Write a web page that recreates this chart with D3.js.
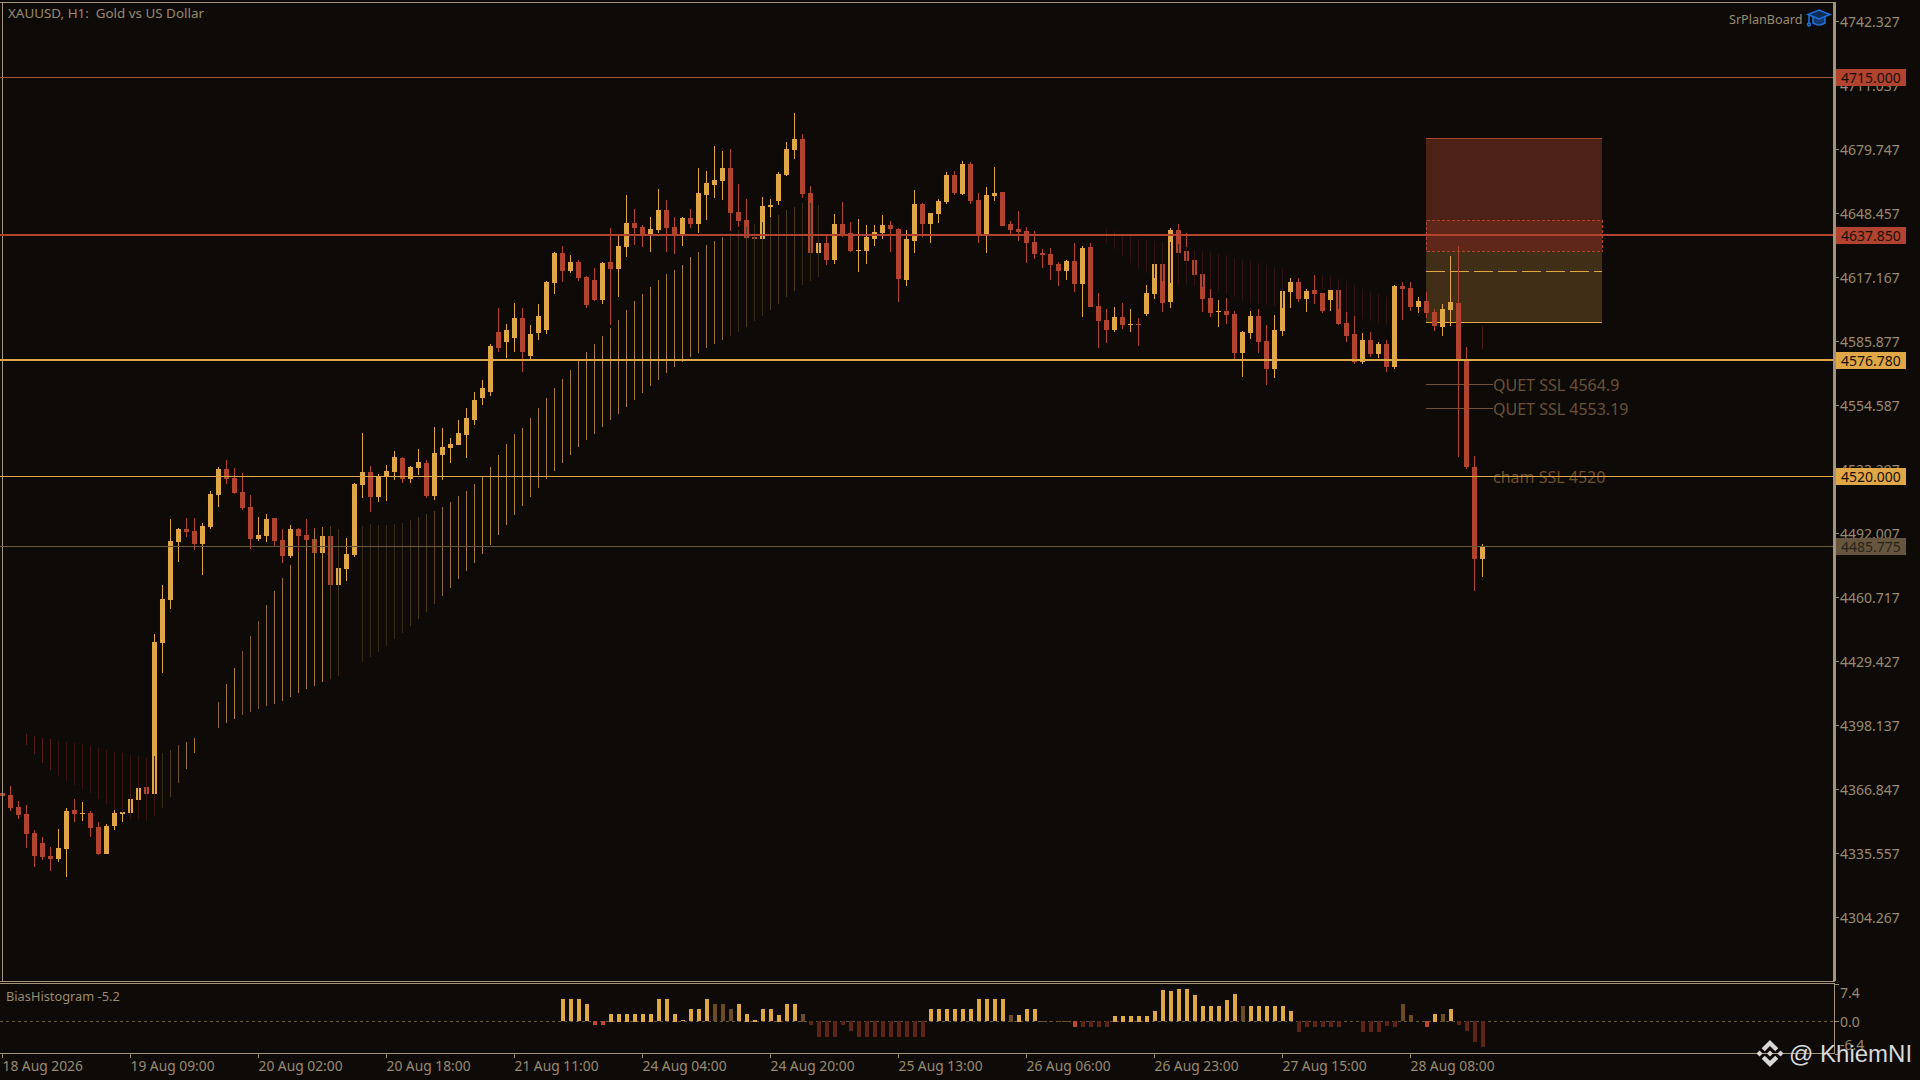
<!DOCTYPE html>
<html><head><meta charset="utf-8">
<script src="https://cdn.jsdelivr.net/npm/d3@7"></script>
<style>
html,body{margin:0;padding:0;background:#0d0a08;overflow:hidden}
svg{display:block}
text{font-family:"Noto Sans",Tahoma,sans-serif;white-space:pre}
</style></head><body><svg id="c" width="1920" height="1080"></svg>
<script>
const highs=[4366.6,4368.5,4361.2,4359.2,4347.0,4343.6,4338.7,4347.5,4357.8,4362.2,
4360.7,4356.3,4350.9,4349.9,4357.8,4355.8,4362.2,4367.5,4368.0,4442.8,
4466.8,4499.0,4494.6,4499.5,4499.5,4497.1,4512.7,4524.5,4527.9,4524.0,
4521.5,4510.8,4500.0,4501.5,4499.5,4494.1,4496.1,4494.6,4499.0,4494.6,
4495.1,4490.7,4475.1,4489.8,4516.6,4541.1,4525.0,4521.0,4525.4,4532.3,
4529.3,4525.0,4533.2,4527.9,4544.0,4543.5,4538.6,4547.4,4553.3,4561.1,
4567.0,4584.6,4602.2,4594.4,4604.6,4602.2,4593.9,4604.1,4615.4,4629.5,
4632.5,4628.0,4625.6,4617.8,4621.7,4624.6,4641.3,4637.4,4657.4,4650.6,
4642.7,4646.6,4660.3,4655.0,4646.6,4646.6,4650.6,4670.6,4669.1,4681.3,
4678.9,4679.9,4662.8,4655.4,4637.4,4656.4,4655.4,4668.6,4683.3,4697.5,
4687.2,4661.8,4634.0,4637.4,4648.1,4654.0,4644.2,4645.7,4642.7,4642.7,
4647.6,4644.7,4641.3,4640.3,4659.8,4653.5,4648.6,4655.4,4668.6,4669.1,
4674.0,4673.5,4658.4,4661.3,4671.1,4658.9,4644.7,4649.6,4641.8,4639.8,
4631.0,4631.5,4624.6,4625.6,4634.0,4632.5,4634.0,4609.5,4601.7,4602.6,
4604.6,4601.7,4597.3,4613.4,4623.7,4623.7,4641.3,4643.2,4638.8,4625.6,
4618.8,4611.5,4606.1,4607.1,4600.7,4590.9,4600.7,4601.7,4593.9,4598.8,
4610.5,4616.8,4616.8,4611.5,4618.3,4609.5,4611.0,4616.3,4600.2,4598.3,
4590.0,4590.4,4585.6,4586.5,4613.4,4614.9,4614.9,4607.6,4610.0,4601.7,
4604.1,4627.6,4632.5,4583.1,4529.8,4486.8];
const lows=[4362.2,4356.3,4352.4,4338.2,4328.9,4332.4,4327.0,4331.4,4324.0,4350.9,
4351.4,4343.6,4334.8,4335.3,4347.0,4350.9,4352.9,4361.7,4364.6,4364.6,
4423.8,4455.0,4478.0,4490.2,4483.9,4471.6,4494.1,4504.9,4516.2,4511.3,
4503.4,4484.4,4488.3,4487.8,4485.8,4477.5,4480.0,4482.9,4483.9,4481.4,
4481.4,4466.8,4466.8,4468.7,4480.5,4509.3,4502.5,4507.3,4507.8,4518.1,
4516.6,4516.6,4520.5,4509.3,4508.3,4518.1,4526.4,4535.2,4528.8,4545.0,
4554.8,4559.2,4580.7,4577.7,4580.7,4570.9,4576.7,4586.5,4589.5,4609.0,
4614.9,4619.3,4615.4,4602.2,4605.6,4604.1,4593.9,4607.6,4627.1,4633.0,
4632.0,4629.5,4638.8,4629.5,4628.6,4632.5,4641.3,4638.8,4645.2,4655.9,
4655.0,4639.8,4641.7,4636.4,4635.4,4635.9,4646.6,4652.5,4666.7,4675.0,
4655.9,4629.0,4629.0,4623.2,4623.7,4636.9,4629.5,4619.8,4623.7,4632.5,
4635.9,4629.5,4605.1,4613.0,4629.0,4636.9,4634.0,4643.7,4653.0,4657.4,
4657.4,4653.0,4634.0,4629.0,4654.5,4642.2,4637.8,4634.9,4624.2,4626.1,
4621.7,4615.9,4612.9,4615.9,4610.0,4597.8,4602.6,4582.6,4585.1,4590.4,
4591.9,4590.4,4583.6,4598.3,4606.6,4600.2,4602.2,4629.0,4624.6,4618.3,
4600.2,4597.8,4592.9,4594.4,4577.2,4568.4,4587.0,4580.2,4564.5,4568.0,
4588.5,4602.2,4605.1,4600.2,4604.1,4599.7,4600.7,4593.9,4585.6,4574.8,
4574.8,4578.2,4577.7,4570.9,4572.3,4596.3,4600.7,4599.7,4597.3,4590.9,
4588.5,4593.4,4529.3,4523.5,4463.8,4470.7];
const opens=[4365.1,4364.1,4358.3,4354.8,4345.5,4340.7,4334.3,4332.8,4337.7,4356.8,
4354.8,4355.3,4348.5,4335.3,4349.0,4354.8,4355.3,4361.7,4368.0,4364.6,
4438.4,4459.4,4487.8,4494.1,4493.1,4486.8,4495.1,4510.8,4523.5,4519.1,
4512.2,4504.9,4489.3,4490.7,4499.5,4488.8,4481.1,4494.1,4491.2,4489.3,
4482.4,4490.7,4466.8,4474.6,4481.4,4515.6,4522.0,4509.8,4520.0,4522.0,
4528.8,4518.6,4524.0,4526.4,4510.3,4530.3,4533.7,4535.2,4539.9,4547.4,
4558.2,4561.1,4590.4,4585.6,4587.5,4597.3,4578.7,4590.0,4591.4,4614.4,
4629.0,4620.3,4624.6,4617.3,4615.9,4606.1,4624.6,4621.2,4632.0,4643.7,
4641.7,4637.8,4640.3,4650.1,4641.7,4637.8,4646.2,4643.2,4657.4,4662.3,
4664.2,4670.6,4649.1,4645.2,4636.9,4635.9,4651.5,4654.5,4667.2,4679.4,
4684.8,4658.4,4629.0,4634.0,4625.6,4643.2,4638.8,4630.0,4630.0,4635.9,
4638.8,4642.7,4640.8,4615.9,4634.9,4653.0,4643.2,4648.1,4654.0,4667.2,
4657.9,4672.6,4655.0,4637.8,4656.9,4658.9,4643.2,4640.8,4639.8,4634.4,
4629.0,4628.6,4623.7,4620.3,4625.1,4613.9,4632.0,4603.1,4596.3,4591.4,
4597.8,4593.9,4594.4,4599.2,4609.0,4623.7,4605.1,4640.3,4630.0,4625.6,
4618.8,4607.1,4600.2,4600.7,4599.2,4580.2,4590.0,4598.3,4586.0,4572.3,
4590.9,4610.0,4614.9,4606.6,4611.0,4609.5,4606.1,4611.0,4594.8,4589.5,
4575.8,4586.5,4579.7,4584.6,4573.3,4612.9,4612.0,4602.6,4605.6,4600.2,
4592.9,4601.2,4604.6,4576.8,4524.5,4479.5];
const closes=[4363.6,4357.8,4354.3,4345.1,4334.3,4333.8,4332.8,4338.2,4356.3,4354.8,
4355.3,4348.0,4335.3,4349.0,4355.3,4355.8,4362.2,4367.5,4364.6,4438.9,
4459.9,4488.3,4494.1,4492.7,4486.8,4495.6,4511.3,4523.5,4518.6,4511.7,
4504.4,4489.3,4491.2,4499.0,4488.3,4481.1,4494.1,4490.7,4488.8,4482.4,
4490.7,4466.8,4475.1,4481.9,4516.1,4522.0,4509.8,4520.0,4522.5,4529.3,
4518.6,4524.5,4526.9,4510.3,4531.3,4534.2,4535.7,4541.1,4548.4,4557.2,
4563.1,4583.6,4582.6,4591.4,4597.3,4580.7,4589.5,4598.3,4614.9,4629.0,
4620.3,4624.6,4616.8,4603.6,4606.1,4624.2,4621.2,4632.5,4643.7,4641.3,
4637.8,4640.8,4650.1,4641.3,4637.8,4646.2,4643.2,4658.4,4663.3,4664.7,
4670.6,4648.6,4644.7,4636.4,4635.9,4652.0,4652.5,4667.7,4679.9,4684.8,
4657.9,4629.0,4634.0,4625.6,4643.2,4637.4,4630.0,4630.5,4636.9,4639.3,
4642.7,4640.8,4616.3,4635.9,4653.0,4643.2,4648.6,4654.5,4667.2,4658.4,
4672.6,4654.5,4637.8,4657.4,4658.4,4642.2,4640.3,4639.3,4634.0,4628.6,
4628.1,4623.2,4620.3,4625.1,4613.9,4631.5,4602.6,4595.8,4591.4,4597.8,
4593.9,4594.4,4593.9,4609.5,4623.7,4604.6,4640.3,4629.0,4625.1,4618.3,
4606.6,4599.7,4600.7,4598.8,4580.2,4590.4,4598.3,4585.6,4572.3,4591.4,
4610.5,4614.9,4606.6,4610.5,4609.0,4600.7,4611.0,4594.4,4588.5,4575.8,
4586.5,4579.7,4584.6,4573.3,4612.9,4611.5,4602.6,4605.6,4599.7,4593.4,
4601.7,4605.1,4576.8,4524.5,4479.5,4485.8];
const ribbonHigh=[null,null,null,4393.9,4393.0,4392.0,4391.5,4390.5,4390.0,4389.5,
4389.1,4388.1,4387.1,4386.1,4385.1,4384.6,4383.7,4383.2,4382.2,4383.2,
4384.6,4386.1,4388.6,4390.0,4392.0,null,null,4409.6,4418.4,4426.2,
4434.5,4441.8,4449.2,4457.0,4463.8,4470.2,4476.5,4482.9,4488.8,4493.6,
4495.1,4495.6,4494.1,null,null,4495.6,4496.6,4496.1,4496.1,4496.6,
4497.1,4498.5,4500.0,4501.5,4503.0,4504.9,4507.3,4510.3,4512.7,4516.1,
4520.0,4524.5,4530.3,4535.7,4540.6,4543.5,4548.4,4553.3,4558.2,4563.1,
4567.5,4571.9,4576.3,4580.7,4584.6,4588.5,4592.4,4596.3,4601.2,4605.6,
4609.0,4612.4,4615.9,4618.8,4620.8,4623.2,4627.1,4629.5,4633.0,4634.9,
4636.9,4638.8,4640.3,4641.8,4643.2,4644.2,4646.6,4647.6,4650.1,4651.5,
4653.5,4653.5,4652.5,null,null,null,null,null,null,null,
null,null,null,null,null,null,null,null,null,null,
null,null,null,null,null,null,null,null,null,null,
null,null,null,null,null,null,null,null,4640.8,4639.8,
4637.8,4637.4,4635.9,4635.4,4634.9,4634.4,4634.4,4633.5,4632.0,4630.5,
4630.0,4629.5,4628.6,4628.1,4626.6,4625.6,4625.1,4624.2,4623.2,4622.2,
4621.2,null,null,null,null,4618.3,4617.8,4616.3,4615.4,4613.4,
4611.5,4610.0,4609.0,4607.6,null,null,null,null,null,null,
null,null,null,null,null,4593.4];
const ribbonLow=[null,null,null,4388.6,4384.2,4379.8,4376.3,4373.4,4371.0,4369.0,
4367.1,4365.1,4362.2,4359.7,4356.8,4355.3,4352.4,4352.4,4351.4,4353.9,
4357.8,4363.1,4370.0,4376.8,4384.6,null,null,4396.9,4399.3,4401.3,
4403.2,4404.7,4406.2,4407.6,4408.6,4410.1,4412.0,4414.0,4415.9,4417.4,
4419.4,4420.8,4422.3,null,null,4429.1,4431.6,4434.0,4437.0,4440.4,
4443.3,4446.7,4450.2,4453.6,4457.5,4461.4,4465.3,4469.7,4473.6,4477.5,
4481.9,4486.3,4491.2,4496.1,4501.0,4505.4,4509.8,4514.2,4518.6,4522.5,
4526.4,4530.3,4534.2,4537.6,4540.6,4544.0,4547.4,4550.3,4553.8,4557.2,
4560.6,4564.0,4567.0,4570.4,4573.3,4575.8,4578.2,4580.2,4582.6,4584.6,
4586.5,4588.5,4590.4,4592.9,4595.8,4598.3,4601.2,4604.1,4607.6,4610.5,
4613.4,4615.4,4617.3,null,null,null,null,null,null,null,
null,null,null,null,null,null,null,null,null,null,
null,null,null,null,null,null,null,null,null,null,
null,null,null,null,null,null,null,null,4634.0,4631.0,
4627.6,4624.2,4621.2,4619.3,4616.8,4615.4,4614.4,4613.9,4613.4,4612.9,
4612.4,4611.5,4610.5,4609.0,4607.6,4605.6,4604.6,4604.1,4603.6,4603.1,
4602.2,null,null,null,null,4611.0,4611.0,4601.7,4600.2,4598.3,
4596.8,4595.8,4594.8,4593.9,null,null,null,null,null,null,
null,null,null,null,null,4582.1];
const ribbonStrength=[0,0,0,-.4,-.4,-.4,-.4,-.25,-.25,-.25,
-.25,-.25,-.25,-.25,-.25,-.25,-.25,-.25,-.25,-.25,
.2,.3,.45,.65,.72,0,0,.6,.7,.75,
.5,.55,.5,.6,.65,.65,.7,.7,.7,.7,
.75,.3,.25,0,0,.2,.2,.2,.2,.2,
.2,.25,.3,.3,.35,.6,.65,.65,.7,.7,
.75,.75,.75,.75,.75,.75,.7,.7,.7,.7,
.7,.7,.7,.7,.7,.7,.7,.7,.7,.7,
.7,.7,.7,.7,.7,.7,.7,.65,.65,.65,
.6,.25,.2,.3,.2,.2,.3,.3,.3,.3,
.2,.2,.2,0,0,0,0,0,0,0,
0,0,0,0,0,0,0,0,0,0,
0,0,0,0,0,0,0,0,0,0,
0,0,0,0,0,0,0,0,-.2,-.2,
-.2,-.2,-.2,-.2,-.2,-.2,-.2,-.2,-.2,-.2,
-.2,-.2,-.2,-.2,-.2,-.2,-.2,-.2,-.2,-.2,
-.2,0,0,0,0,-.2,-.2,-.2,-.2,-.2,
-.2,-.2,-.2,-.2,0,0,0,0,0,0,
0,0,0,0,0,-.35];
const histValues=[0,0,0,0,0,0,0,0,0,0,0,0,0,0,0,0,0,0,0,0,
0,0,0,0,0,0,0,0,0,0,0,0,0,0,0,0,0,0,0,0,
0,0,0,0,0,0,0,0,0,0,0,0,0,0,0,0,0,0,0,0,
0,0,0,0,0,0,0,0,0,0,
4.4,4.4,4.4,3.4,-.7,-.7,1.5,1.5,1.5,1.5,
1.5,1.5,4.4,4.4,1.5,.2,2.4,2.4,4.4,3.4,
3.4,2.4,3.4,1.5,.3,2.4,2.4,1.3,3.4,3.4,
1.5,-.7,-3.1,-3.1,-3.1,-.7,-1.9,-3.1,-3.1,-3.1,
-3.1,-3.1,-3.1,-3.1,-3.1,-3.1,2.4,2.4,2.4,2.4,
2.4,2.4,4.4,4.4,4.4,4.4,1.3,1.3,2.4,2.4,
.1,.1,.1,.1,-1.2,-1.1,-1.1,-1.1,-1.1,1.1,
1.1,1.1,1.1,1.1,2.0,6.2,6.0,6.4,6.4,5.2,
3.0,3.0,3.0,4.2,5.4,3.0,3.0,3.0,3.0,3.0,
3.0,2.0,-2.1,-1.1,-1.1,-1.1,-1.1,-1.1,0,0,
-2.1,-2.1,-2.1,-.9,-1.1,3.4,1.3,0,-1.1,1.5,
1.5,2.4,-.7,-1.9,-4.1,-5.2];
// g strong rise, m weak rise, d fall, r sharp fall, n none
const histStates=("nnnnnnnnnnnnnnnnnnnnnnnnnnnnnnnnnnnnnnnnnnnnnnnnnnnnnnnnnnnnnnnnnnnnnn"+
"ggggrrggggggggggggg"+"mmm"+"ggggggggm"+"d"+"dddddddddddddd"+"gggggggggg"+"m"+"ggg"+"mmmm"+"r"+"dddd"+
"gggggggggggggggg"+"m"+"gggggg"+"dddddd"+"nn"+"ddddd"+"mm"+"n"+"rgmg"+"dddd").split("");
const priceTicks=[4742.327,4711.037,4679.747,4648.457,4617.167,4585.877,4554.587,4523.297,4492.007,4460.717,4429.427,4398.137,4366.847,4335.557,4304.267];
const histTicks=[7.4,0.0,-6.4];
const timeTickIndex=[0,16,32,48,64,80,96,112,128,144,160,176];
const timeTickLabels=["18 Aug 2026","19 Aug 09:00","20 Aug 02:00","20 Aug 18:00","21 Aug 11:00","24 Aug 04:00","24 Aug 20:00","25 Aug 13:00","26 Aug 06:00","26 Aug 23:00","27 Aug 15:00","28 Aug 08:00"];
const levelPrices=[4715.0,4637.85,4576.78,4520.0,4485.775];
const levelKinds=["red1","red2","gold2","gold1","last"];
const sslPrices=[4564.9,4553.19];
const sslLabels=["QUET SSL 4564.9","QUET SSL 4553.19"];
const zoneStart=178,zoneEnd=200;
const zoneTop=4685.1,zoneSplit=4630.0,zoneDashTop=4645.2,zoneMid=4620.1,zoneBottom=4595.3;

const GOLD="#dfa746",RED="#b2432e",BG="#0d0a08",AXIS="#9a8a6e",FRAME="#a3937a";
const svg=d3.select("#c");
const x=d3.scaleLinear().domain([0,185]).range([2.5,1482.5]);
const y=d3.scaleLinear().domain([4752.72,4263.92]).range([0,1000]);
const yH=d3.scaleLinear().domain([7.4,-6.4]).range([984,1053.5]);
const ry=p=>Math.round(y(p));
svg.append("rect").attr("width",1920).attr("height",1080).attr("fill",BG);

const crisp=svg.append("g").attr("shape-rendering","crispEdges");
// zones
const zx0=Math.round(x(zoneStart)-.5),zx1=Math.round(x(zoneEnd)-.5);
crisp.append("rect").attr("x",zx0).attr("y",ry(zoneTop)).attr("width",zx1-zx0).attr("height",ry(zoneSplit)-ry(zoneTop)).attr("fill","#4c2116");
crisp.append("rect").attr("x",zx0).attr("y",ry(zoneDashTop)).attr("width",zx1-zx0).attr("height",ry(zoneSplit)-ry(zoneDashTop)).attr("fill","#5e271a");
crisp.append("rect").attr("x",zx0).attr("y",ry(zoneSplit)).attr("width",zx1-zx0).attr("height",ry(zoneBottom)-ry(zoneSplit)).attr("fill","#402e17");
crisp.append("line").attr("x1",zx0).attr("x2",zx1).attr("y1",ry(zoneTop)+.5).attr("y2",ry(zoneTop)+.5).attr("stroke",RED);
crisp.append("line").attr("x1",zx0).attr("x2",zx1).attr("y1",ry(zoneBottom)+.5).attr("y2",ry(zoneBottom)+.5).attr("stroke",GOLD);
crisp.append("rect").attr("x",zx0+.5).attr("y",ry(zoneDashTop)+.5).attr("width",zx1-zx0).attr("height",ry(zoneSplit)-ry(zoneDashTop)).attr("fill","none").attr("stroke",RED).attr("stroke-dasharray","3,2");
crisp.append("line").attr("x1",zx0).attr("x2",zx1).attr("y1",ry(zoneMid)+.5).attr("y2",ry(zoneMid)+.5).attr("stroke",GOLD).attr("stroke-dasharray","18.7,5.3");
// ssl lines
crisp.selectAll(".ssl").data(sslPrices).join("line").attr("x1",zx0).attr("x2",1493)
 .attr("y1",d=>ry(d)+.5).attr("y2",d=>ry(d)+.5).attr("stroke","#6f5433");
// candles
const idx=d3.range(opens.length);
crisp.selectAll(".wick").data(idx).join("rect").attr("x",i=>x(i)-.5).attr("width",1)
 .attr("y",i=>ry(highs[i])).attr("height",i=>Math.max(1,ry(lows[i])-ry(highs[i])))
 .attr("fill",i=>closes[i]>=opens[i]?GOLD:RED);
crisp.selectAll(".body").data(idx).join("rect").attr("x",i=>x(i)-2.5).attr("width",5)
 .attr("y",i=>ry(Math.max(opens[i],closes[i]))).attr("height",i=>Math.max(1,ry(Math.min(opens[i],closes[i]))-ry(Math.max(opens[i],closes[i]))))
 .attr("fill",i=>closes[i]>=opens[i]?GOLD:RED);
// ribbon
const goldMix=d3.interpolateRgb(BG,GOLD),redMix=d3.interpolateRgb(BG,"#c0392b");
const ribbonColor=s=>s>=0?goldMix(s):redMix(-s);
crisp.selectAll(".rib").data(idx.filter(i=>ribbonHigh[i]!==null)).join("rect").attr("x",i=>x(i)-.5).attr("width",1)
 .attr("y",i=>ry(ribbonHigh[i])).attr("height",i=>ry(ribbonLow[i])-ry(ribbonHigh[i]))
 .attr("fill",i=>ribbonColor(ribbonStrength[i]));
// ssl text
const sslG=svg.append("g");
sslG.selectAll("text").data(sslLabels).join("text").attr("x",1493).attr("y",(d,i)=>ry(sslPrices[i])+6.5)
 .attr("fill","#6a5236").attr("font-size",16).text(d=>d);
sslG.append("text").attr("x",1493).attr("y",ry(4520)+6.5).attr("fill","#6e5126").attr("font-size",16).text("cham SSL 4520");
// price axis labels and ticks
const axisG=svg.append("g");
axisG.selectAll("text").data(priceTicks).join("text").attr("x",1840).attr("y",d=>y(d)+6).attr("fill",AXIS).attr("font-size",14).text(d=>d.toFixed(3));
crisp.selectAll(".ptick").data(priceTicks).join("line").attr("x1",1836).attr("x2",1839).attr("y1",d=>ry(d)+.5).attr("y2",d=>ry(d)+.5).attr("stroke",AXIS);
// level lines
const kindStyle={red1:{c:"#a5553a",w:1,tag:RED},red2:{c:RED,w:2,tag:RED},gold2:{c:GOLD,w:2,tag:GOLD},gold1:{c:GOLD,w:1,tag:GOLD},last:{c:"#6b5838",w:1,tag:"#665640"}};
const lv=svg.append("g").attr("shape-rendering","crispEdges");
lv.selectAll(".lvl").data(levelPrices).join("rect").attr("x",0).attr("width",1833)
 .attr("y",(d,i)=>ry(d)-(kindStyle[levelKinds[i]].w>1?1:0)).attr("height",(d,i)=>kindStyle[levelKinds[i]].w)
 .attr("fill",(d,i)=>kindStyle[levelKinds[i]].c);
lv.selectAll(".tag").data(levelPrices).join("rect").attr("x",1836).attr("width",70).attr("height",17)
 .attr("y",d=>ry(d)-8).attr("fill",(d,i)=>kindStyle[levelKinds[i]].tag);
svg.append("g").selectAll("text").data(levelPrices).join("text").attr("x",1841).attr("y",d=>ry(d)+5.5)
 .attr("fill",(d,i)=>levelKinds[i]==="last"?"#2a2218":"#1a0f06").attr("font-size",14).text(d=>d.toFixed(3));
// frames
const frame=[[0,2,1835,1],[2,2,1,980],[0,981,1835,1],[0,983,1835,1],[0,1053,1835,1],[1833,2,3,979],[1834,983,1,70]];
crisp.selectAll(".fr").data(frame).join("rect").attr("x",d=>d[0]).attr("y",d=>d[1]).attr("width",d=>d[2]).attr("height",d=>d[3]).attr("fill",FRAME);
// histogram
crisp.append("line").attr("x1",0).attr("x2",1834).attr("y1",Math.round(yH(0))+.5).attr("y2",Math.round(yH(0))+.5).attr("stroke","#6b5a40").attr("stroke-dasharray","3,3");
const stateFill={g:GOLD,m:"#6d4c25",d:"#5e2414",r:"#c0442f"};
crisp.selectAll(".hb").data(idx.filter(i=>histValues[i]!==0)).join("rect").attr("x",i=>x(i)-2).attr("width",4)
 .attr("y",i=>Math.round(yH(Math.max(0,histValues[i])))).attr("height",i=>Math.max(1,Math.round(Math.abs(yH(histValues[i])-yH(0)))))
 .attr("fill",i=>stateFill[histStates[i]]);
crisp.selectAll(".ht").data(histTicks).join("line").attr("x1",1835).attr("x2",1839).attr("y1",d=>Math.round(yH(d))+.5).attr("y2",d=>Math.round(yH(d))+.5).attr("stroke",AXIS);
const histDy=d=>d>0?13.5:(d<0?-4:6);
svg.append("g").selectAll("text").data(histTicks).join("text").attr("x",1840).attr("y",d=>yH(d)+histDy(d)).attr("fill",AXIS).attr("font-size",14).text(d=>d.toFixed(1));
// time axis
crisp.selectAll(".tt").data(timeTickIndex).join("line").attr("x1",i=>x(i)-.5).attr("x2",i=>x(i)-.5).attr("y1",1053).attr("y2",1058).attr("stroke",AXIS);
svg.append("g").selectAll("text").data(timeTickLabels).join("text").attr("x",(d,i)=>x(timeTickIndex[i])).attr("y",1071).attr("fill",AXIS).attr("font-size",13.8).text(d=>d);
// header texts
svg.append("text").attr("x",8).attr("y",17.5).attr("fill",AXIS).attr("font-size",13.4).text("XAUUSD, H1:  Gold vs US Dollar");
svg.append("text").attr("x",1729).attr("y",24).attr("fill",AXIS).attr("font-size",12.6).text("SrPlanBoard");
svg.append("text").attr("x",6).attr("y",1000.5).attr("fill",AXIS).attr("font-size",12.8).text("BiasHistogram -5.2");
// cap icon
const cap=svg.append("g").attr("stroke","#1f6fd6").attr("stroke-width",1.6).attr("fill","none");
cap.append("path").attr("d","M1813,17 V23 Q1819,27 1825,23 V17").attr("fill","#123a70");
cap.append("path").attr("d","M1808,14.5 L1819,10 L1830,14.5 L1819,19 Z").attr("fill","#0d2d58");
cap.append("path").attr("d","M1809,15 V23");
cap.append("circle").attr("cx",1809).attr("cy",24.5).attr("r",1.4);
// watermark
const logo=svg.append("g").attr("transform","translate(1756.5,1040) scale(0.213)").attr("fill","#d8d8d8");
["M38.73 53.2l24.59-24.58 24.6 24.6 14.3-14.31L63.32 0 24.42 38.9l14.31 14.3",
"M0 63.31l14.3-14.31 14.31 14.31-14.31 14.3z",
"M38.73 73.41l24.59 24.59 24.6-24.6 14.31 14.29-38.9 38.91-38.91-38.88v-.03z",
"M98.28 63.31l14.3-14.31 14.31 14.31-14.31 14.3z",
"M77.83 63.3L63.32 48.78 52.59 59.51l-1.24 1.23-2.54 2.54 14.51 14.5 14.51-14.47z"].forEach(d=>logo.append("path").attr("d",d));
svg.append("text").attr("x",1789).attr("y",1062).attr("fill","#d8d8d8").attr("font-size",24).style("font-family","'Liberation Sans'").text("@ KhiemNI");
</script></body></html>
